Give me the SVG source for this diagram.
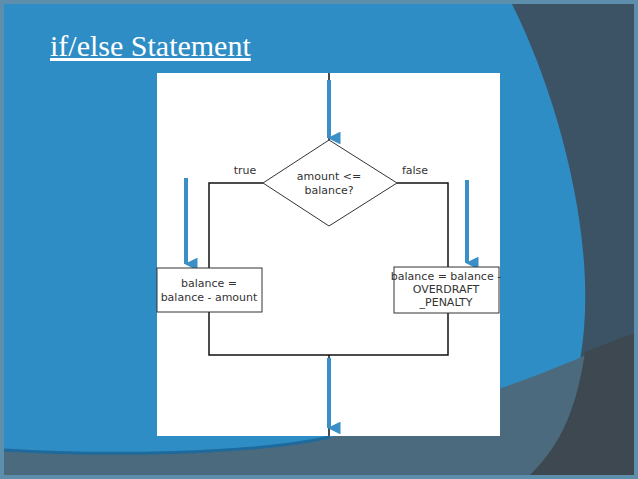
<svg xmlns="http://www.w3.org/2000/svg" width="638" height="479" viewBox="0 0 638 479">
<style>
.ln{fill:none;stroke:#111;stroke-width:1.5}
.bx{fill:#fff;stroke:#333;stroke-width:1}
.t{font-family:"DejaVu Sans",sans-serif;font-size:11px;fill:#333;text-anchor:middle}
.ba{stroke:#3a8fc7;stroke-width:4}
</style>
<defs><marker id="ah" viewBox="0 0 10 10" refX="5" refY="9" markerWidth="3.2" markerHeight="3.2" orient="auto-start-reverse"><path d="M0,0 L10,5 L0,10 z" fill="#3a8fc7" transform="rotate(90 5 5)"/></marker></defs>
<rect width="638" height="479" fill="#5d8eab"/>
<rect x="4" y="4" width="630" height="471" fill="#2f8dc6"/>
<path d="M512,4 C560,100 600,250 580,360 C570,420 550,450 530,475 L634,475 L634,4 Z" fill="#3b5364"/>
<path d="M4,450 C100,456 250,455 330,437 C450,410 560,370 634,333 L634,475 L4,475 Z" fill="#4c6a7d"/>
<path d="M4,450 C100,456 250,455 330,437" fill="none" stroke="#1f6a9c" stroke-width="3"/>
<path d="M585,352 C575,420 555,450 530,475 L634,475 L634,333 Z" fill="#3d4850"/>
<text x="50" y="56" font-family="Liberation Serif,serif" font-size="30" fill="#fff" text-decoration="underline">if/else Statement</text>
<rect x="157" y="73" width="343" height="363" fill="#fff"/>
<g id="connectors">
<path class="ln" d="M329,73 V140 M263,183 H209 V268 M397,183 H448 V267 M209,312 V355 H448 V313 M329,355 V436"/>
<line class="ba" x1="329" y1="80" x2="329" y2="138" marker-end="url(#ah)"/>
<line class="ba" x1="186" y1="178" x2="186" y2="264" marker-end="url(#ah)"/>
<line class="ba" x1="467" y1="180" x2="467" y2="263" marker-end="url(#ah)"/>
<line class="ba" x1="329" y1="358" x2="329" y2="428" marker-end="url(#ah)"/>
<text class="t" x="245" y="174">true</text>
<text class="t" x="415" y="174">false</text>
</g>
<g id="decision"><path class="bx" d="M329,140 L397,183 L329,226 L263,183 Z"/><text class="t" x="329" y="180">amount &lt;=</text><text class="t" x="329" y="194">balance?</text></g>
<g id="trueBox"><rect class="bx" x="157" y="268" width="105" height="44"/><text class="t" x="209" y="287">balance =</text><text class="t" x="209" y="301">balance - amount</text></g>
<g id="falseBox"><rect class="bx" x="394" y="267" width="105" height="46"/><text class="t" x="446" y="280" font-size="10">balance = balance -</text><text class="t" x="446" y="293" font-size="10">OVERDRAFT</text><text class="t" x="446" y="306" font-size="10">_PENALTY</text></g>
</svg>
